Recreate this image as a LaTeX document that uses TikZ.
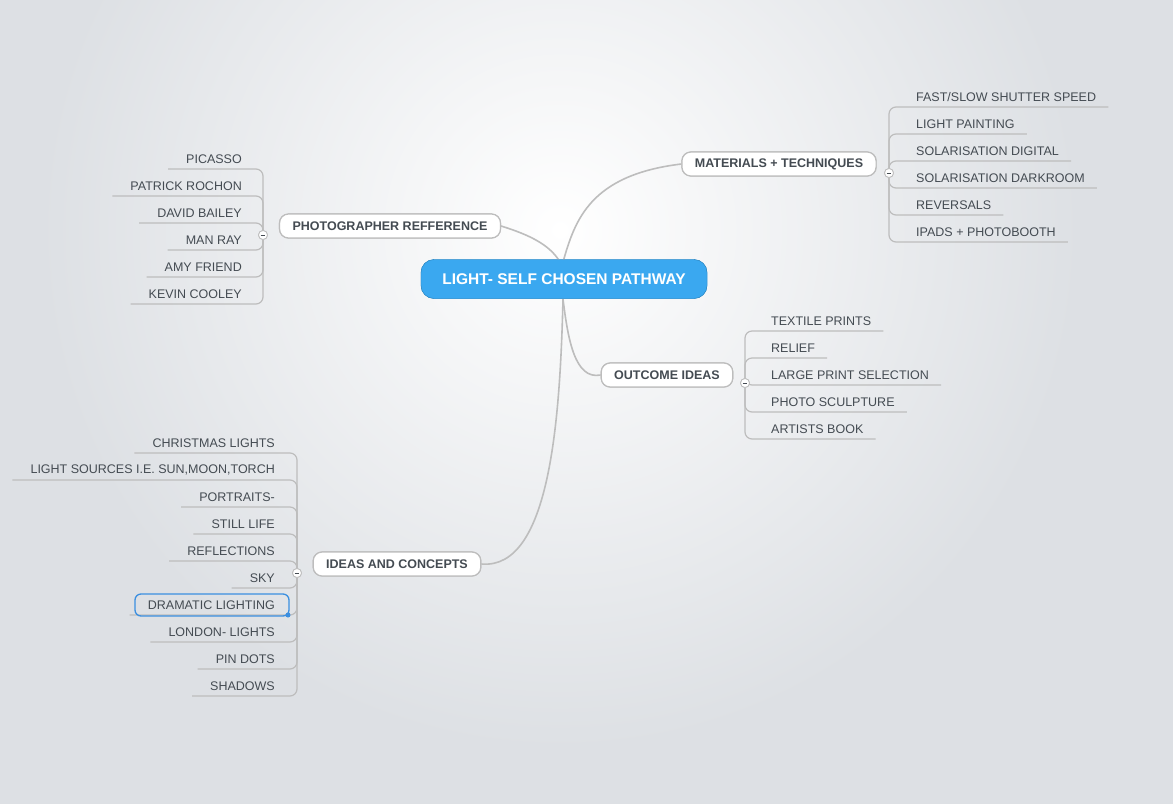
\documentclass[tikz,border=0pt]{standalone}
\usepackage{fontspec}
\setmainfont{Liberation Sans}
\usetikzlibrary{calc}
\definecolor{bg}{HTML}{DDE0E4}
\definecolor{txt}{HTML}{444B52}
\definecolor{ln}{HTML}{BDBDBD}
\definecolor{blu}{HTML}{3AA8F0}
\definecolor{hl}{HTML}{3B8FE0}
\tikzset{
 leaf/.style={font=\fontsize{12.5}{14}\selectfont,text=txt,inner xsep=0pt,inner ysep=4pt},
 branch/.style={draw=ln,line width=1.2pt,fill=white,rounded corners=9pt,font=\bfseries\fontsize{12.5}{14}\selectfont,text=txt,minimum height=24pt,inner xsep=13pt},
 center/.style={fill=blu,draw=blu!80!black,rounded corners=13pt,minimum width=286pt,minimum height=39pt,text=white,font=\bfseries\fontsize{15.5}{17}\selectfont},
 minus/.style={circle,draw=ln,fill=white,line width=0.8pt,minimum size=9pt,inner sep=0pt,path picture={\draw[txt,line width=0.8pt] ($(path picture bounding box.center)+(-2.3,0)$)--++(4.6,0);}},
 con/.style={ln,line width=1.6pt},
 uline/.style={ln,line width=1.2pt,rounded corners=7pt}
}
\begin{document}
\begin{tikzpicture}[x=1pt,y=-1pt]
\useasboundingbox (0,0) rectangle (1173,804);
\fill[bg] (0,0) rectangle (1173,804);
\shade[inner color=white,outer color=bg] (560,230) circle (520);
\node[center] (c) at (564,279) {LIGHT- SELF CHOSEN PATHWAY};
\node[branch] (b1) at (390,226) {PHOTOGRAPHER REFFERENCE};
\node[branch] (b2) at (779,164) {MATERIALS + TECHNIQUES};
\node[branch] (b3) at (667,375) {OUTCOME IDEAS};
\node[branch] (b4) at (397,564) {IDEAS AND CONCEPTS};
\draw[con] (563,262) .. controls (575,220) and (590,175) .. (b2.west);
\draw[con] (560,262) .. controls (550,245) and (530,235) .. (b1.east);
\draw[con] (563,299) .. controls (568,340) and (575,380) .. (b3.west);
\draw[con] (563,299) .. controls (560,420) and (550,570) .. (b4.east);
\node[branch] at (b1) {PHOTOGRAPHER REFFERENCE};
\node[branch] at (b2) {MATERIALS + TECHNIQUES};
\node[branch] at (b3) {OUTCOME IDEAS};
\node[branch] at (b4) {IDEAS AND CONCEPTS};
\node[center] at (c) {LIGHT- SELF CHOSEN PATHWAY};
\node[minus] (m1) at (263,235) {};
\node[minus] (m2) at (889,173) {};
\node[minus] (m3) at (745,383) {};
\node[minus] (m4) at (297,573) {};
\foreach \t [count=\i] in {PICASSO,PATRICK ROCHON,DAVID BAILEY,MAN RAY,AMY FRIEND,KEVIN COOLEY}{
 \node[leaf,anchor=south east] (p\i) at (242,{141+27*\i}) {\t};
 \draw[uline] (m1.center) |- ($(p\i.south west)+(-18,1)$);
}
\foreach \t [count=\i] in {FAST/SLOW SHUTTER SPEED,LIGHT PAINTING,SOLARISATION DIGITAL,SOLARISATION DARKROOM,REVERSALS,IPADS + PHOTOBOOTH}{
 \node[leaf,anchor=south west] (t\i) at (916,{79+27*\i}) {\t};
 \draw[uline] (m2.center) |- ($(t\i.south east)+(12,1)$);
}
\foreach \t [count=\i] in {TEXTILE PRINTS,RELIEF,LARGE PRINT SELECTION,PHOTO SCULPTURE,ARTISTS BOOK}{
 \node[leaf,anchor=south west] (o\i) at (771,{303+27*\i}) {\t};
 \draw[uline] (m3.center) |- ($(o\i.south east)+(12,1)$);
}
\foreach \t [count=\i] in {CHRISTMAS LIGHTS,{LIGHT SOURCES I.E. SUN,MOON,TORCH},PORTRAITS-,STILL LIFE,REFLECTIONS,SKY,DRAMATIC LIGHTING,LONDON- LIGHTS,PIN DOTS,SHADOWS}{
 \node[leaf,anchor=south east] (i\i) at (275,{425+27*\i}) {\t};
 \draw[uline] (m4.center) |- ($(i\i.south west)+(-18,1)$);
}
\node[minus] at (m1) {};\node[minus] at (m2) {};\node[minus] at (m3) {};\node[minus] at (m4) {};
\node[draw=hl,line width=1.3pt,rounded corners=6pt,minimum height=22pt,minimum width=154pt] (sel) at (212,605) {};
\node[circle,fill=hl,inner sep=0pt,minimum size=5pt] (dot) at (288,615) {};
\end{tikzpicture}
\end{document}
